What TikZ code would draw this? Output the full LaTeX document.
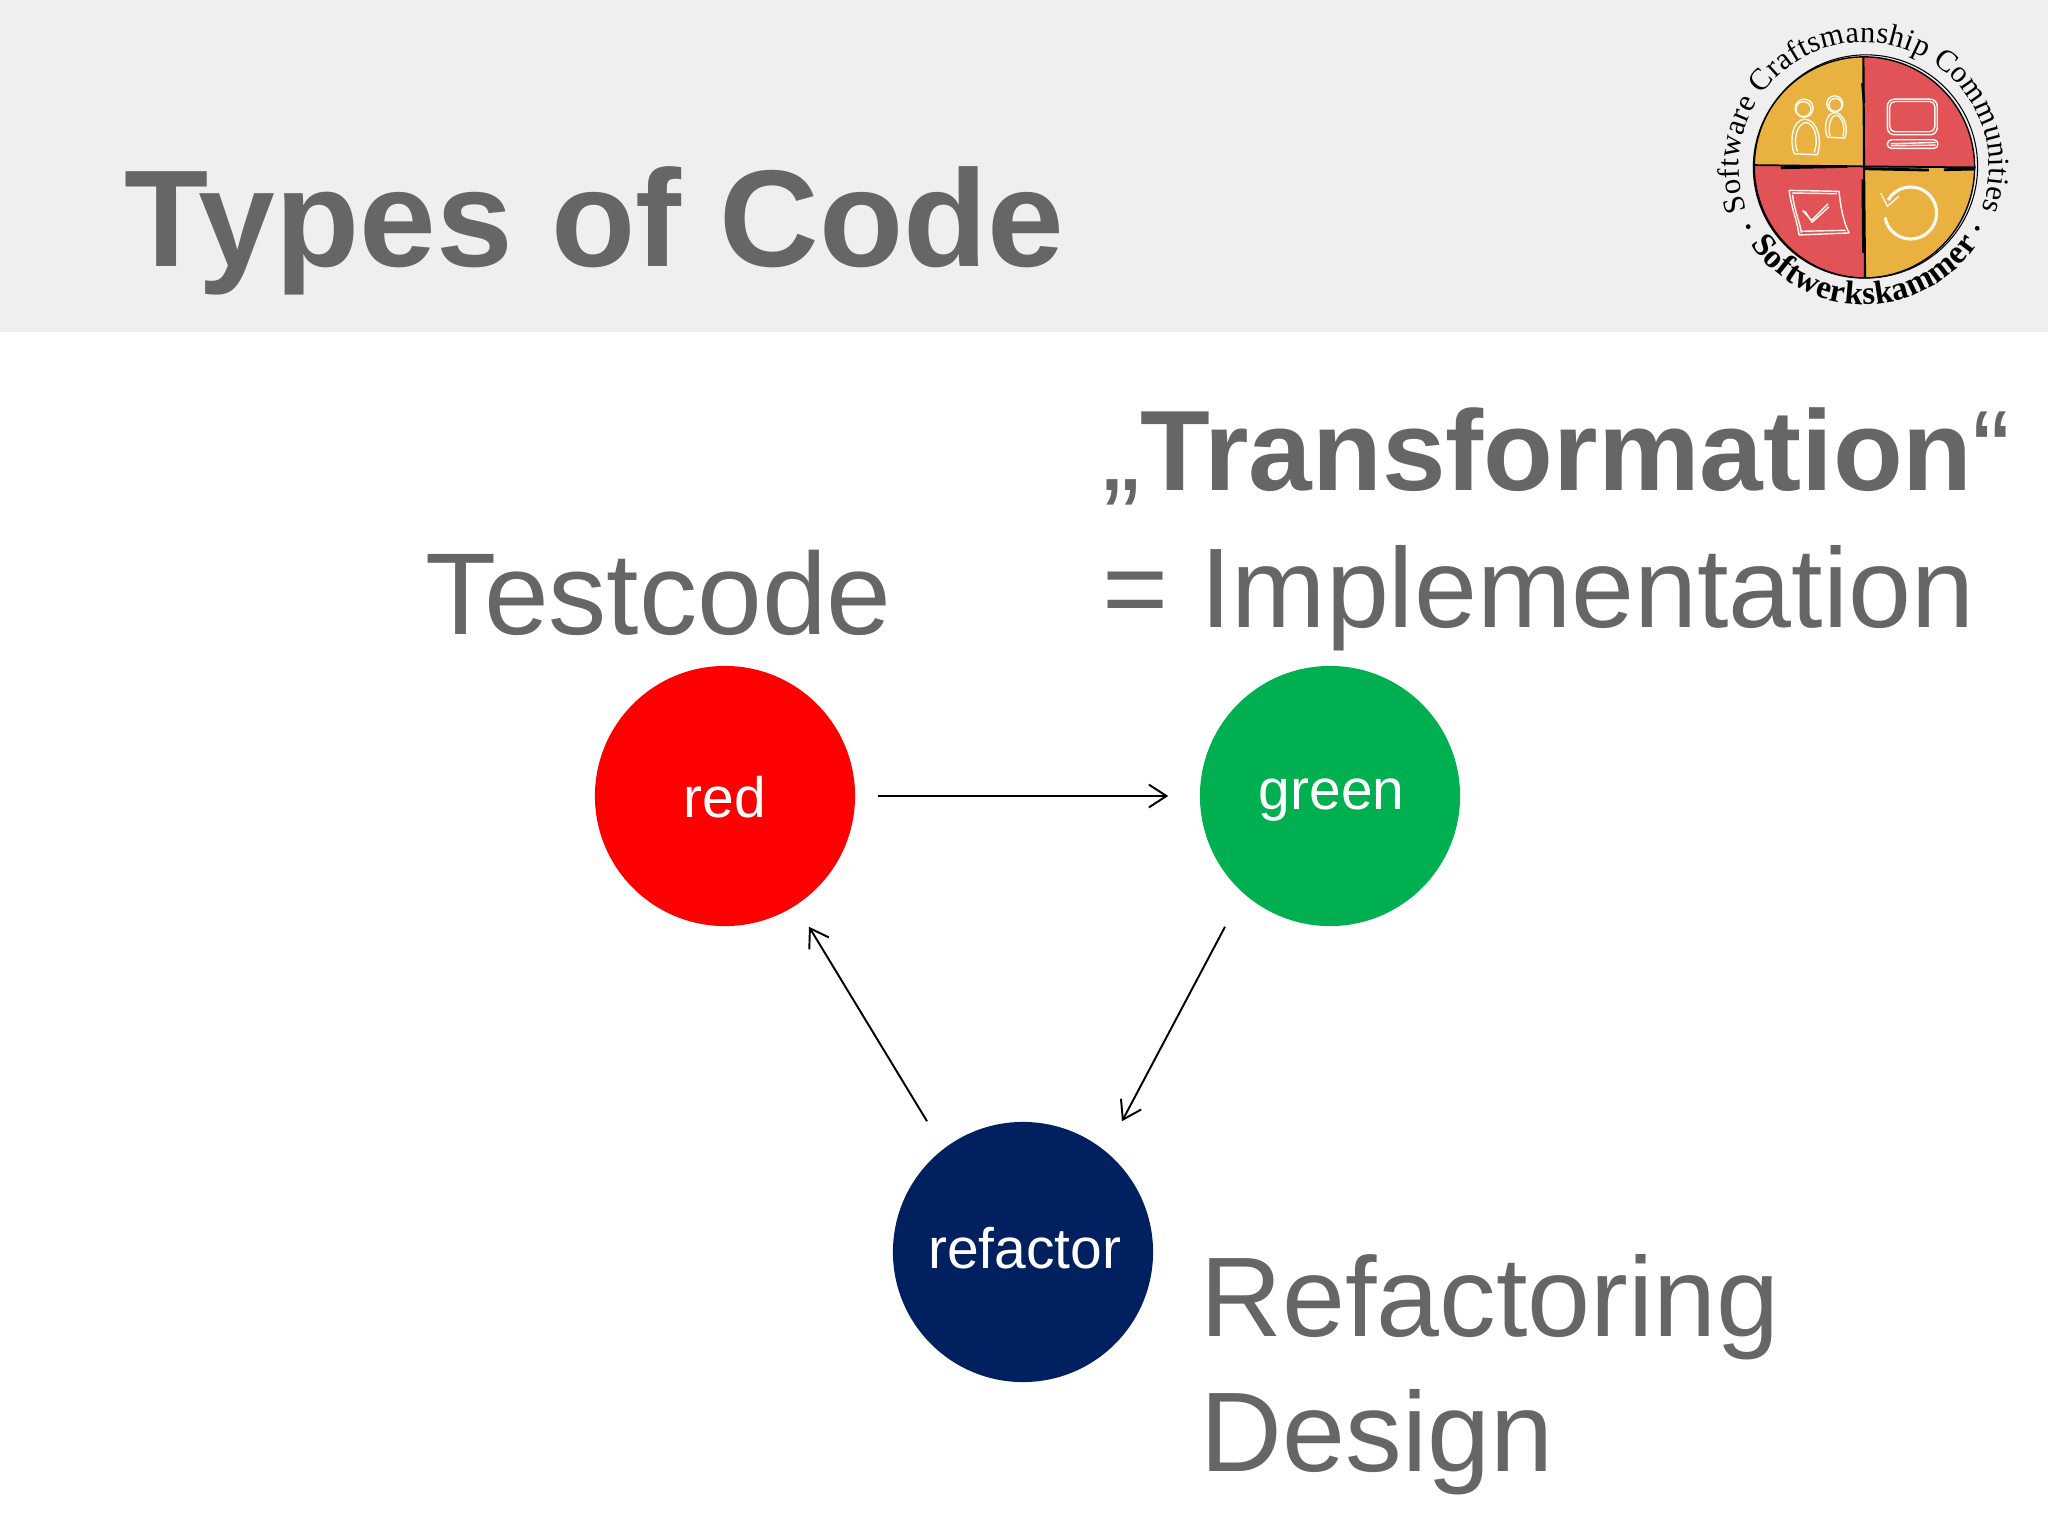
\documentclass[tikz,border=0pt]{standalone}
\usepackage{fontspec}
\setmainfont{Liberation Sans}
\newfontfamily\logoserif{Liberation Serif}
\usetikzlibrary{arrows.meta,calc,decorations.text}
\definecolor{txtgray}{HTML}{666666}
\definecolor{barbg}{HTML}{EFEFEF}
\definecolor{cred}{HTML}{FF0000}
\definecolor{cgreen}{HTML}{00B050}
\definecolor{cnavy}{HTML}{002060}
\definecolor{logoyellow}{HTML}{E9B13F}
\definecolor{logored}{HTML}{E15356}
\newcommand{\logotop}{\logoserif\fontsize{8.7pt}{11pt}\selectfont}
\newcommand{\logobot}{\logoserif\bfseries\fontsize{9.4pt}{11pt}\selectfont}
\tikzset{
  x=0.01cm,y=0.01cm,
  phase/.style={circle,minimum size=2.6cm,inner sep=0pt,text=white,text height=0pt,text depth=0pt,font=\fontsize{16.2pt}{19pt}\selectfont},
  flow/.style={draw=black,line width=0.55pt,-{Straight Barb[length=5pt,width=6.5pt,line width=0.55pt]}},
  bigtext/.style={anchor=base west,inner sep=0pt,text=txtgray,font=\fontsize{32.2pt}{38pt}\selectfont},
  bigbold/.style={bigtext,font=\bfseries\fontsize{32.5pt}{38pt}\selectfont},
  titletext/.style={anchor=base west,inner sep=0pt,text=txtgray,font=\bfseries\fontsize{39.2pt}{46pt}\selectfont},
  sketchblack/.style={draw=black,line width=0.5pt},
  sketchwhite/.style={draw=white!92!logoyellow,line width=0.4pt,line join=round},
}
\begin{document}
\begin{tikzpicture}
\useasboundingbox (0,-1536) rectangle (2048,0);
\fill[white] (0,-1536) rectangle (2048,0);
\fill[barbg] (0,-332) rectangle (2048,0);

\node[titletext] (title) at (124,-266) {Types of Code};
\node[bigbold] (transf) at (1102,-490) {{\mdseries „}Transformation{\mdseries “}};
\node[bigtext] (impl) at (1102,-627) {= Implementation};
\node[bigtext,font=\fontsize{33.1pt}{38pt}\selectfont] (testcode) at (425,-634) {Testcode};
\node[bigtext] (refac) at (1200,-1336) {Refactoring};
\node[bigtext] (design) at (1200,-1471) {Design};

\node[phase,fill=cred] (red) at (725,-796) {\raisebox{-6.2pt}{red}};
\node[phase,fill=cgreen] (green) at (1330,-796) {\raisebox{-3.8pt}{\hspace{1pt}green}};
\node[phase,fill=cnavy] (refactor) at (1023,-1252) {\raisebox{-4.8pt}{\hspace{1pt}refactor}};

\draw[flow] ($(red.east)+(22,0)$) -- ($(green.west)+(-31,0)$);
\draw[flow] ($(green.south)+(-105,0)$) -- ($(refactor.north)+(99,0)$);
\draw[flow] ($(refactor.north)+(-96,0)$) -- ($(red.south)+(84,0)$);

% logo, drawn in the coordinates of a 3x crop
\begin{scope}[xshift=16.9cm,x=0.0033333cm,y=-0.0033333cm]
  \coordinate (logoC) at (520,503);
  \begin{scope}
    \clip (logoC) circle[radius=1.105cm];
    \fill[logoyellow] (100,100) rectangle (519,500);
    \fill[logored] (519,100) rectangle (900,505);
    \fill[logored] (100,500) rectangle (521,900);
    \fill[logoyellow] (521,505) rectangle (900,900);
  \end{scope}
  \draw[sketchblack,line width=0.4pt] (logoC) circle[radius=1.105cm];
  \draw[sketchblack,line width=0.3pt] ([xshift=0.02cm,yshift=0.01cm]logoC) circle[radius=1.115cm];
  \draw[sketchblack,line width=0.5pt] (186,496) -- (520,500) -- (855,503);
  \draw[sketchblack,line width=0.8pt] (270,504) -- (470,500) (520,507) -- (715,511) (760,510) -- (850,508);
  \draw[sketchblack,line width=0.6pt] (518,172) -- (520,500) -- (523,832);
  \draw[sketchblack,line width=0.7pt] (515,250) -- (520,310) (516,540) -- (518,760);
  % people
  \draw[sketchwhite] (340,325) circle[radius=0.09cm];
  \draw[sketchwhite] (338,328) circle[radius=0.075cm];
  \draw[sketchwhite] (432,312) circle[radius=0.08cm];
  \draw[sketchwhite] (434,315) circle[radius=0.065cm];
  \draw[sketchwhite] (310,462) .. controls (295,420) and (305,360) .. (342,358) .. controls (380,360) and (395,420) .. (380,465) -- cycle;
  \draw[sketchwhite] (320,455) .. controls (305,420) and (320,370) .. (345,368) .. controls (372,370) and (385,420) .. (370,458);
  \draw[sketchwhite] (410,412) .. controls (398,385) and (405,340) .. (432,338) .. controls (460,340) and (475,385) .. (462,415) -- cycle;
  \draw[sketchwhite] (418,408) .. controls (410,380) and (420,348) .. (436,346) .. controls (455,350) and (465,385) .. (456,410);
  % monitor and keyboard
  \draw[sketchwhite,rounded corners=2pt] (590,298) rectangle (740,405);
  \draw[sketchwhite,rounded corners=1.5pt] (597,305) rectangle (733,396);
  \draw[sketchwhite,rounded corners=1.2pt] (590,420) rectangle (742,446);
  \draw[sketchwhite] (600,432) -- (735,428) (600,438) -- (735,436);
  % sheet and tick
  \draw[sketchwhite] (295,572) -- (445,575) .. controls (450,630) and (460,670) .. (475,700) -- (325,706) .. controls (318,660) and (300,620) .. (295,572) -- cycle;
  \draw[sketchwhite] (303,580) -- (438,582) (330,695) -- (465,692) (305,585) .. controls (310,630) and (325,660) .. (332,700);
  \draw[sketchwhite] (335,632) -- (362,662) -- (412,612) (342,634) -- (364,668) -- (414,622);
  % cycle
  \draw[draw=white!92!logoyellow,line width=0.9pt] ([shift={(190:0.26cm)}]660,640) arc[start angle=190,end angle=510,radius=0.26cm];
  \draw[sketchwhite] (570,580) -- (590,620) -- (625,590);
  % dots
  \fill[black] (172,681) circle[radius=0.024cm];
  \fill[black] (860,686) circle[radius=0.024cm];
\end{scope}

\path[decorate,decoration={text along path,text align={fit to path},text={|\logotop|Software Craftsmanship Communities}}]
  ([shift={(200:1.25cm)}]logoC) arc[start angle=200,end angle=-20,radius=1.25cm];
\path[decorate,decoration={text along path,text align={fit to path},text={|\logobot|Softwerkskammer}}]
  ([shift={(214:1.37cm)}]logoC) arc[start angle=214,end angle=326,radius=1.37cm];
\end{tikzpicture}
\end{document}
